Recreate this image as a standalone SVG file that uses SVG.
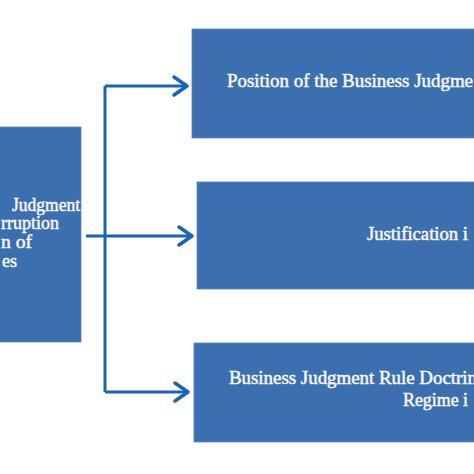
<svg xmlns="http://www.w3.org/2000/svg" width="474" height="474" viewBox="0 0 474 474">
  <style>
    .box { fill: #3c6fb0; stroke: #5a86c0; stroke-width: 0.8; }
    .lbl { font-family: "Liberation Serif", "Times New Roman", serif; font-size: 18px; fill: #f7f7f7; stroke: #f7f7f7; stroke-width: 0.5; }
    .conn { stroke: #1c62b5; stroke-width: 3; fill: none; }
  </style>
  <defs>
    <marker id="arr" markerUnits="userSpaceOnUse" markerWidth="20" markerHeight="24" viewBox="-16 -12 20 24" refX="0" refY="0" orient="auto">
      <path d="M-13,-9 L0,0 L-13,9" fill="none" stroke="#1c62b5" stroke-width="3.5" stroke-linecap="round" stroke-linejoin="round"/>
    </marker>
  </defs>
  <rect width="474" height="474" fill="#ffffff"/>
  <g id="connectors">
    <path class="conn" d="M105,392 L105,86"/>
    <path class="conn" d="M105,86 L187,86" marker-end="url(#arr)"/>
    <path class="conn" d="M86,236 L192,236" marker-end="url(#arr)"/>
    <path class="conn" d="M105,392 L188,392" marker-end="url(#arr)"/>
  </g>
  <g id="node-left">
    <rect class="box" x="-2" y="127" width="83" height="215"/>
    <text class="lbl" x="12" y="211" textLength="68" lengthAdjust="spacingAndGlyphs">Judgment</text>
    <text class="lbl" x="1" y="229" textLength="58" lengthAdjust="spacingAndGlyphs">rruption</text>
    <text class="lbl" x="1" y="248" textLength="31" lengthAdjust="spacingAndGlyphs">n of</text>
    <text class="lbl" x="2" y="267" textLength="15" lengthAdjust="spacingAndGlyphs">es</text>
  </g>
  <g id="node-top">
    <rect class="box" x="192" y="29" width="284" height="109"/>
    <text class="lbl" x="227" y="87" textLength="246" lengthAdjust="spacingAndGlyphs">Position of the Business Judgme</text>
  </g>
  <g id="node-middle">
    <rect class="box" x="197" y="182" width="279" height="107"/>
    <text class="lbl" x="367" y="240" textLength="101" lengthAdjust="spacingAndGlyphs">Justification i</text>
  </g>
  <g id="node-bottom">
    <rect class="box" x="194" y="343" width="282" height="99"/>
    <text class="lbl" x="229" y="384" textLength="248" lengthAdjust="spacingAndGlyphs">Business Judgment Rule Doctrin</text>
    <text class="lbl" x="403" y="406" textLength="65" lengthAdjust="spacingAndGlyphs">Regime i</text>
  </g>
</svg>
